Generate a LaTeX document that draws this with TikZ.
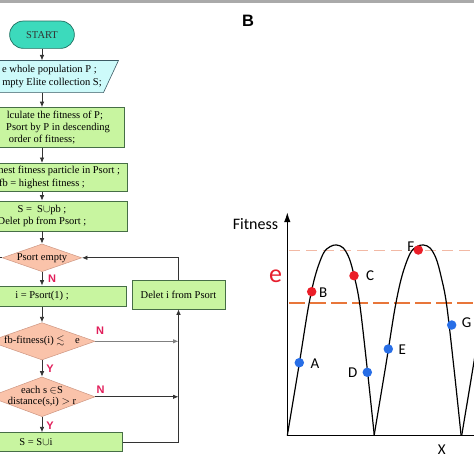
\documentclass[tikz,border=0pt]{standalone}
\usepackage{fontspec}
\usepackage{amssymb}
\setmainfont{Liberation Serif}
\newfontfamily\carlito{Carlito}
\newfontfamily\arialsans{Liberation Sans}
\usetikzlibrary{shapes.geometric,arrows.meta,backgrounds}

\definecolor{topbar}{RGB}{170,170,170}
\definecolor{startfill}{RGB}{60,218,188}
\definecolor{startline}{RGB}{30,110,95}
\definecolor{parafill}{RGB}{205,250,250}
\definecolor{paraline}{RGB}{60,90,100}
\definecolor{procfill}{RGB}{200,245,160}
\definecolor{procline}{RGB}{70,110,70}
\definecolor{decfill}{RGB}{250,195,170}
\definecolor{decline}{RGB}{205,150,130}
\definecolor{nred}{RGB}{225,30,90}
\definecolor{ered}{RGB}{230,30,45}
\definecolor{dotred}{RGB}{235,30,40}
\definecolor{dotblue}{RGB}{40,110,230}
\definecolor{lightorange}{RGB}{242,185,165}
\definecolor{darkorange}{RGB}{232,118,58}

% keep the visible (right) part of a cut line, right-aligned
\newcommand{\cutline}[2]{\makebox[#1pt][r]{#2}}

\begin{document}
\begin{tikzpicture}[x=1pt,y=-1pt]
    \tikzset{
      txt/.style = {font=\fontsize{10.5}{12.2}\selectfont},
      term/.style = {rectangle, rounded corners=13.6pt, draw=startline,
      fill=startfill, line width=0.7pt, inner sep=0pt, txt},
      proc/.style = {rectangle, draw=procline, fill=procfill,
      line width=0.6pt, inner sep=0pt, align=center, txt},
      dec/.style = {diamond, draw=decline, fill=decfill,
      line width=0.5pt, inner sep=0pt, align=center, txt},
      flow/.style = {-{Latex[length=5.5pt,width=4.5pt]}, line width=0.8pt,
      draw=black!80},
      yn/.style = {font=\arialsans\bfseries\fontsize{11}{11}\selectfont,
      text=nred},
      pt/.style = {circle, minimum size=9.5pt, inner sep=0pt},
      ptlabel/.style = {font=\carlito\fontsize{15}{15}\selectfont},
      axis/.style = {line width=1.5pt},
      curve/.style = {line width=1.2pt}
    }

    \useasboundingbox (0,0) rectangle (474,474);
    \clip (0,0) rectangle (474,474);
    \fill[topbar] (0,0) rectangle (474,2.5);

    % flow chart
    \node[term, minimum width=64.7pt, minimum height=27.3pt, text=black!80]
      (start) at (42,34.7) {START};

    \node[txt, align=center, inner sep=0pt, minimum width=137.6pt,
      minimum height=31.7pt] (init) at (42,76.5)
      {\cutline{109.4}{e whole population P ;}\\
       \cutline{119.4}{mpty Elite collection S;}};
    \begin{scope}[on background layer]
      \draw[paraline, fill=parafill, line width=0.6pt]
        ([xshift=7.5pt]init.north west) -- ([xshift=7.5pt]init.north east)
        -- ([xshift=-7.5pt]init.south east) -- ([xshift=-7.5pt]init.south west)
        -- cycle;
    \end{scope}

    \node[proc, minimum width=164pt, minimum height=40pt] (calc) at (42,127.5)
      {\cutline{122}{lculate the fitness of P;}\\
       \cutline{136}{Psort by P in descending}\\
       order of fitness;};
    \node[proc, minimum width=171.4pt, minimum height=28.4pt] (best) at (42,177.5)
      {\cutline{156}{hest fitness particle in Psort ;}\\
       fb = highest fitness ;};
    \node[proc, minimum width=171.4pt, minimum height=30pt] (addpb) at (42,216)
      {S = \ S$\cup$pb ;\\ Delet pb from Psort ;};

    \node[dec, minimum width=79.4pt, minimum height=27.7pt, aspect=2.87]
      (empty) at (42,257.8) {Psort empty};
    \node[proc, minimum width=168pt, minimum height=20.7pt] (takei) at (42,296.3)
      {i = Psort(1) ;};
    \node[proc, minimum width=93pt, minimum height=29pt] (delete) at (178.5,294.5)
      {Delet i from Psort};

    \node[dec, minimum width=106pt, minimum height=37.3pt, aspect=2.84]
      (check) at (42,341.3) {fb-fitness(i) $\lesssim$\hspace{1em}e};
    \node[dec, minimum width=106pt, minimum height=39.7pt, aspect=2.67,
      inner sep=-4pt, font=\fontsize{10.5}{11}\selectfont]
      (dist) at (42,396.8) {each s $\in$S\\ distance(s,i) $>$ r};
    \node[proc, minimum width=161.4pt, minimum height=19pt] (addi) at (42,442.2)
      {S = S$\cup$i\hspace*{12pt}};

    \draw[flow] (start) -- (init);
    \draw[flow] (init) -- (calc);
    \draw[flow] (calc) -- (best);
    \draw[flow] (best) -- (addpb);
    \draw[flow] (addpb) -- (empty);
    \draw[flow] (empty) -- (takei);
    \draw[flow] (takei) -- (check);
    \draw[flow] (check) -- (dist);
    \draw[flow] (dist) -- (addi);
    \draw[flow] (delete.north) |- (empty.east);
    \draw[flow, draw=black!50] (check.east) -- (check.east -| delete.south);
    \draw[flow] (dist.east) -- (dist.east -| delete.south);
    \draw[flow] (addi.east) -| (delete.south);
    \coordinate (done) at (-20,257.8);
    \draw[line width=0.8pt, black!80] (empty.west) -- (done);

    \node[yn] (n1) at (52,279) {N};
    \node[yn] (n2) at (100,330.7) {N};
    \node[yn] (y1) at (50,369) {Y};
    \node[yn] (n3) at (100.7,390) {N};
    \node[yn] (y2) at (50,426) {Y};

    % fitness landscape
    \node[font=\arialsans\bfseries\fontsize{16.5}{16.5}\selectfont]
      (panel) at (248,20.7) {B};

    \draw[draw=lightorange, line width=1pt, dash pattern=on 11pt off 6pt]
      (289,250.7) -- (480,250.7);
    \draw[draw=darkorange, line width=1.7pt, dash pattern=on 16pt off 5pt]
      (289,303.3) -- (480,303.3);

    \foreach \s in {0,86.8,174.4}
      \draw[curve] plot[smooth, tension=0.55] coordinates {
        ({287.3+\s},435.5) ({299.3+\s},363.5) ({308.3+\s},307.5)
        ({315.3+\s},275.5) ({323.3+\s},253.5) ({330.3+\s},246.5)
        ({336.7+\s},245) ({343.3+\s},248) ({349.3+\s},258.5)
        ({354.3+\s},276.5) ({359.8+\s},304.5) ({367.3+\s},369.5)
        ({374.3+\s},435.5)};

    \coordinate (origin) at (287.3,435.5);
    \coordinate (ytop) at (287.3,212);
    \coordinate (xend) at (480,435.5);
    \draw[axis, -{Latex[length=10pt,width=6.5pt]}] (origin) -- (ytop);
    \draw[axis] (origin) -- (xend);

    \node[font=\carlito\fontsize{16}{16}\selectfont] (ylab) at (255.5,224) {Fitness};
    \node[ptlabel] (xlab) at (441.7,450) {X};
    \node[font=\carlito\fontsize{26}{26}\selectfont, text=ered] (elab)
      at (275.5,276.3) {e};

    \foreach \name/\x/\y/\c/\lx/\ly in {
      A/299.3/362.7/dotblue/315/363.3,
      B/311.7/291.7/dotred/323.3/292.3,
      C/354/275.7/dotred/370/275.7,
      D/367.3/372.3/dotblue/352.7/372.3,
      E/388.3/349/dotblue/402.3/350,
      F/418.3/250/dotred/410.7/246.7,
      G/451.7/325/dotblue/466.7/322.3}
    {
      \node[pt, fill=\c] (pt\name) at (\x,\y) {};
      \node[ptlabel] (lab\name) at (\lx,\ly) {\name};
    }
\end{tikzpicture}
\end{document}
